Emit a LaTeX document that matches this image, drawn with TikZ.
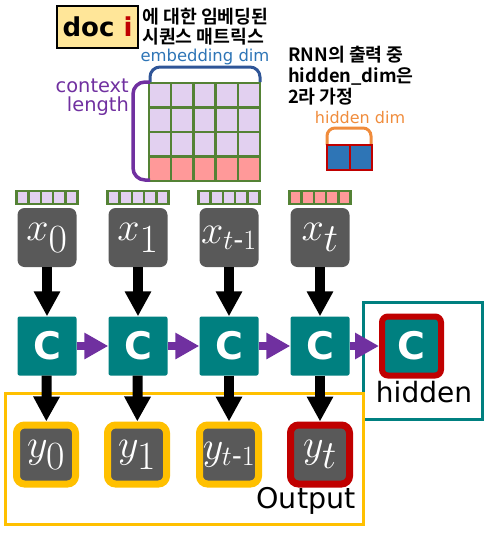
\documentclass[tikz,border=0pt]{standalone}
\usepackage{fix-cm}
\usepackage{amsmath}
\usepackage{fontspec}
\setmainfont{DejaVu Sans}
\newfontfamily\krfont[BoldFont={Noto Sans CJK KR Bold}]{Noto Sans CJK KR}
\usetikzlibrary{arrows.meta}
\definecolor{cellfill}{RGB}{226,208,240}
\definecolor{lastfill}{RGB}{255,153,153}
\definecolor{cellline}{RGB}{84,130,53}
\definecolor{nodegray}{RGB}{89,89,89}
\definecolor{cteal}{RGB}{0,128,128}
\definecolor{arrowpurple}{RGB}{112,48,160}
\definecolor{outyellow}{RGB}{255,192,0}
\definecolor{darkred}{RGB}{192,0,0}
\definecolor{hidblue}{RGB}{46,117,182}
\definecolor{bracedblue}{RGB}{47,85,151}
\definecolor{braceorange}{RGB}{240,140,60}
\definecolor{docfill}{RGB}{255,230,153}
\newcommand{\drawcell}[5]{\draw[cellline, line width=2.5pt, fill=#5] (#1,#2) rectangle ++(#3,#4);}
\newcommand{\drawvector}[2]{
    \foreach \c in {0,...,4}{
    \drawcell{#1-30.5+12.2*\c}{191}{12.2}{13}{#2}
    }
}
\newcommand{\tminusone}{\mbox{\fontsize{28}{28}\selectfont$t$\raisebox{0pt}{-}$1$}}
\tikzset{
  xbox/.style={fill=nodegray, rounded corners=7pt, minimum size=59pt, inner sep=0pt,
    text=white, font=\fontsize{40}{40}\selectfont},
  cbox/.style={fill=cteal, rounded corners=2pt, minimum size=59pt, inner sep=0pt,
    text=white, font=\bfseries\fontsize{38}{38}\selectfont},
  ybox/.style={fill=nodegray, draw=outyellow, line width=7pt, rounded corners=8pt,
    minimum size=59pt, inner sep=0pt, text=white, font=\fontsize{40}{40}\selectfont},
  downarrow/.style={line width=10pt, -{Triangle[length=25pt, width=25pt]}},
  rightarrow/.style={arrowpurple, line width=8pt, -{Triangle[length=24pt, width=25pt]}},
  brace/.style={line width=3pt, rounded corners=10pt},
}
\begin{document}
\begin{tikzpicture}[x=1pt, y=-1pt]
\useasboundingbox (0,0) rectangle (489,533);
% embedding matrix
\foreach \r in {0,...,2}{
  \foreach \c in {0,...,4}{
    \drawcell{149+22.2*\c}{83+24.5*\r}{22.2}{24.5}{cellfill}
  }
}
\foreach \c in {0,...,4}{
  \drawcell{149+22.2*\c}{156.5}{22.2}{24.5}{lastfill}
}
\draw[brace, bracedblue] (150,82) |- (205,67) -| (260,82);
\draw[brace, arrowpurple, line width=3.5pt, rounded corners=12pt] (150,82) -| (133,131) |- (150,180);
\node[draw, line width=2pt, fill=docfill, minimum width=81pt, minimum height=42pt,
  font=\bfseries\fontsize{26}{26}\selectfont] (doc) at (97.5,27) {doc \textcolor{darkred}{i}};
\node[anchor=west, align=left, inner sep=0pt, font=\krfont\bfseries\fontsize{18.3}{20}\selectfont]
  (title) at (142,27) {에 대한 임베딩된\\시퀀스 매트릭스};
\node[text=hidblue, font=\fontsize{16.4}{16.4}\selectfont] (embdim) at (205,57) {embedding dim};
\node[text=arrowpurple, align=right, anchor=east, inner sep=0pt,
  font=\fontsize{19.4}{19.5}\selectfont] (ctxlen) at (129,97) {context\\length};
% hidden dim note
\node[anchor=north west, align=left, inner sep=0pt, font=\krfont\bfseries\fontsize{18.3}{21}\selectfont]
  (note) at (288,46) {RNN의 출력 중\\hidden\_dim은\\2라 가정};
\node[text=braceorange, font=\fontsize{16}{16}\selectfont] (hiddim) at (360,118) {hidden dim};
\draw[brace, braceorange, rounded corners=8pt] (327,145) |- (349,128) -| (371,145);
\draw[darkred, line width=2pt, fill=hidblue] (327,145) rectangle (349.5,170);
\draw[darkred, line width=2pt, fill=hidblue] (349.5,145) rectangle (372,170);
% input vectors
\drawvector{47}{cellfill}
\drawvector{138}{cellfill}
\drawvector{229}{cellfill}
\drawvector{320}{lastfill}
% inputs
\node[xbox] (x0) at (47,237.5) {$x_{\textstyle 0}$};
\node[xbox] (x1) at (138,237.5) {$x_{\textstyle 1}$};
\node[xbox] (x2) at (229,237.5) {$x_{\tminusone}$};
\node[xbox] (x3) at (320,237.5) {$x_{\textstyle t}$};
% cells
\node[cbox] (c0) at (47,346) {C};
\node[cbox] (c1) at (138,346) {C};
\node[cbox] (c2) at (229,346) {C};
\node[cbox] (c3) at (320,346) {C};
\node[cbox, draw=darkred, line width=6pt, rounded corners=6pt] (ch) at (411.5,346) {C};
\draw[cteal, line width=3pt] (363,302) rectangle (482,419);
\node[anchor=base, font=\fontsize{28}{28}\selectfont] (hidlabel) at (424,402) {hidden};
% outputs
\draw[outyellow, line width=3pt] (5,393) rectangle (363,524);
\node[ybox] (y0) at (46,454.5) {$y_{\textstyle 0}$};
\node[ybox] (y1) at (137,454.5) {$y_{\textstyle 1}$};
\node[ybox] (y2) at (229,454.5) {$y_{\tminusone}$};
\node[ybox, draw=darkred] (y3) at (320,454.5) {$y_{\textstyle t}$};
\node[anchor=base, font=\fontsize{28.5}{28.5}\selectfont] (outlabel) at (306,508) {Output};
% arrows
\foreach \i in {0,...,3}{
  \draw[downarrow] (x\i) -- (c\i);
  \draw[downarrow] (c\i) -- (y\i);
}
\draw[rightarrow] (c0) -- (c1);
\draw[rightarrow] (c1) -- (c2);
\draw[rightarrow] (c2) -- (c3);
\draw[rightarrow] (c3) -- (ch);
\end{tikzpicture}
\end{document}
